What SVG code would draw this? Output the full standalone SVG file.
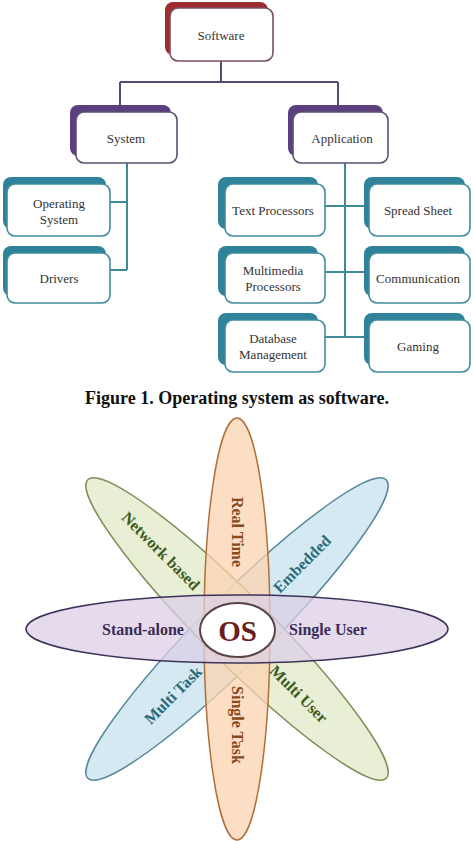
<svg xmlns="http://www.w3.org/2000/svg" width="474" height="841" viewBox="0 0 474 841">
<style>
.t{font-family:"Liberation Serif","Times New Roman",serif;font-size:13px;fill:#333;text-anchor:middle;dominant-baseline:central}
.front{fill:#fff;stroke-width:1.6}
.red{fill:#9e2b2d}
.pur{fill:#5b3f7e}
.teal{fill:#2f8299}
.fr{stroke:#7a5060}
.fp{stroke:#5e4e72}
.ft{stroke:#3f8c9c}
.con{fill:none;stroke-width:2}
.el{stroke-width:1.5;fill-opacity:0.75}
.lab{font-family:"Liberation Serif","Times New Roman",serif;font-size:16px;font-weight:bold;text-anchor:middle;dominant-baseline:central}
</style>
<rect width="474" height="841" fill="#fff"/>
<g id="connectors">
<path class="con" stroke="#554a75" d="M221 61V82M120 82H338M120 82V105M338 82V105"/>
<path class="con" stroke="#3f8a99" d="M127 163V270M110 202H127M110 270H127"/>
<path class="con" stroke="#3f8a99" d="M345 163V337M325 206H369M325 272H369M325 337H369"/>
</g>
<g id="software"><rect class="red" x="165" y="2" width="103" height="53" rx="8"/><rect class="front fr" x="170" y="8" width="103" height="53" rx="8"/><text class="t" x="221" y="35">Software</text></g>
<g id="system"><rect class="pur" x="70" y="105" width="101" height="51" rx="8"/><rect class="front fp" x="76" y="112" width="101" height="51" rx="8"/><text class="t" x="126" y="138">System</text></g>
<g id="application"><rect class="pur" x="288" y="105" width="95" height="51" rx="8"/><rect class="front fp" x="293" y="112" width="95" height="51" rx="8"/><text class="t" x="342" y="138">Application</text></g>
<g id="os-box"><rect class="teal" x="3" y="177" width="103" height="52" rx="8"/><rect class="front ft" x="7" y="184" width="103" height="52" rx="8"/><text class="t" x="59" y="203">Operating</text><text class="t" x="59" y="219">System</text></g>
<g id="drivers"><rect class="teal" x="3" y="246" width="103" height="50" rx="8"/><rect class="front ft" x="7" y="253" width="103" height="50" rx="8"/><text class="t" x="59" y="278">Drivers</text></g>
<g id="text-processors"><rect class="teal" x="218" y="177" width="100" height="52" rx="8"/><rect class="front ft" x="225" y="184" width="100" height="52" rx="8"/><text class="t" x="273" y="210">Text Processors</text></g>
<g id="multimedia"><rect class="teal" x="218" y="246" width="100" height="50" rx="8"/><rect class="front ft" x="225" y="253" width="100" height="50" rx="8"/><text class="t" x="273" y="270">Multimedia</text><text class="t" x="273" y="286">Processors</text></g>
<g id="database"><rect class="teal" x="218" y="313" width="100" height="52" rx="8"/><rect class="front ft" x="225" y="320" width="100" height="52" rx="8"/><text class="t" x="273" y="338">Database</text><text class="t" x="273" y="354">Management</text></g>
<g id="spread-sheet"><rect class="teal" x="364" y="177" width="101" height="52" rx="8"/><rect class="front ft" x="369" y="184" width="101" height="52" rx="8"/><text class="t" x="418" y="210">Spread Sheet</text></g>
<g id="communication"><rect class="teal" x="364" y="246" width="101" height="50" rx="8"/><rect class="front ft" x="369" y="253" width="101" height="50" rx="8"/><text class="t" x="418" y="278">Communication</text></g>
<g id="gaming"><rect class="teal" x="364" y="313" width="101" height="52" rx="8"/><rect class="front ft" x="369" y="320" width="101" height="52" rx="8"/><text class="t" x="418" y="346">Gaming</text></g>
<text x="237" y="404" font-family="'Liberation Serif','Times New Roman',serif" font-size="18" font-weight="bold" text-anchor="middle" fill="#111">Figure 1. Operating system as software.</text>
<g id="os-diagram">
<ellipse class="el" cx="237" cy="629" rx="211" ry="34" transform="rotate(-45 237 629)" fill="#c6e2ec" stroke="#55889a"/>
<ellipse class="el" cx="237" cy="629" rx="211" ry="34" transform="rotate(45 237 629)" fill="#e0eac5" stroke="#7d8f5a"/>
<ellipse class="el" cx="237" cy="629" rx="33" ry="211" fill="#fbd3b2" stroke="#b0703a"/>
<ellipse class="el" cx="237" cy="629" rx="211" ry="34" fill="#dccfe7" stroke="#3d3358"/>
<g id="os"><ellipse cx="237.5" cy="630" rx="37.5" ry="27" fill="#fff" stroke="#5a4444" stroke-width="2"/><text class="lab" x="237.5" y="631" fill="#6b1c1c" style="font-size:29px">OS</text></g>
<text class="lab" x="237" y="532" fill="#8a4a20" transform="rotate(90 237 532)">Real Time</text>
<text class="lab" x="237" y="725" fill="#8a4a20" transform="rotate(90 237 725)">Single Task</text>
<text class="lab" x="143" y="629" fill="#3a2d55">Stand-alone</text>
<text class="lab" x="328" y="629" fill="#3a2d55">Single User</text>
<text class="lab" x="161" y="551" fill="#3d5a1e" transform="rotate(45 161 551)">Network based</text>
<text class="lab" x="299" y="694" fill="#3d5a1e" transform="rotate(45 299 694)">Multi User</text>
<text class="lab" x="302" y="564" fill="#2a6a7a" transform="rotate(-45 302 564)">Embedded</text>
<text class="lab" x="173" y="695" fill="#2a6a7a" transform="rotate(-45 173 695)">Multi Task</text>
</g>
</svg>
